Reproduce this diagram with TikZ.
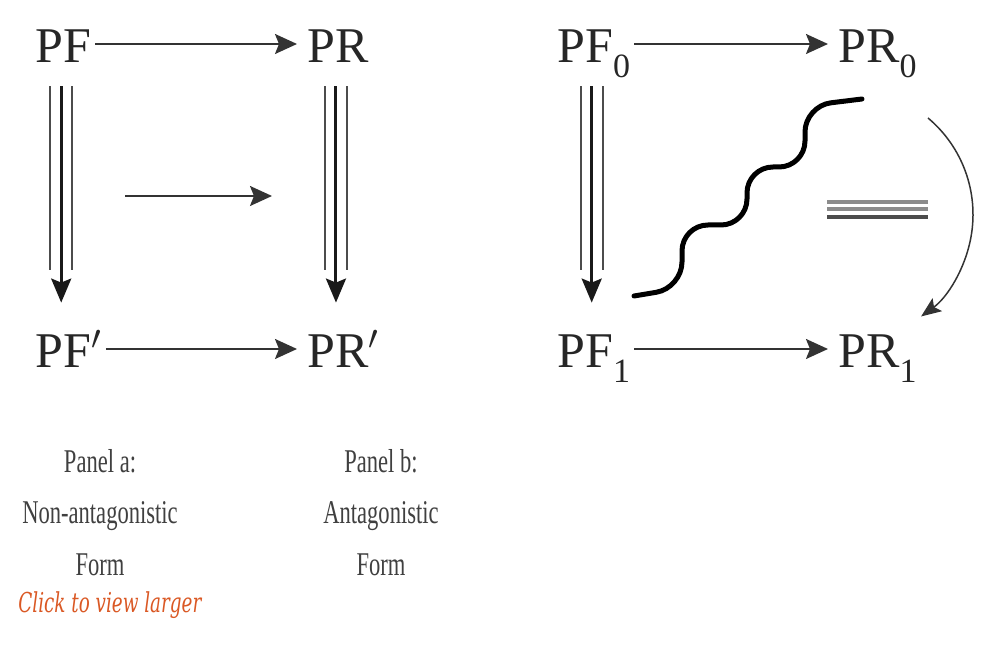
\documentclass[tikz,border=0pt]{standalone}
\usepackage{fontspec}
\setmainfont{Liberation Serif}
\newfontfamily\termfont{Liberation Serif}
\newfontfamily\panelfont[FakeStretch=0.68]{Liberation Serif}
\newfontfamily\linkfont[FakeStretch=0.67]{DejaVu Serif}
\usetikzlibrary{arrows.meta}
\definecolor{linkorange}{RGB}{218,88,36}
\newcommand\lowidx[1]{\raisebox{-7.5pt}{\fontsize{17}{17}\selectfont #1}}

\begin{document}
\begin{tikzpicture}[x=0.5pt, y=0.5pt,
  term/.style={inner sep=0pt, anchor=base west, text height=19pt, text depth=0pt,
    font=\termfont\fontsize{25}{30}\selectfont, text=black!85},
  maps/.style={-{Stealth[length=11pt,width=10pt,inset=2pt]}, line width=1pt, draw=black!80},
  horiz/.style={maps, shorten <=2pt, shorten >=5pt},
  rails/.style={draw=black!70, line width=0.9pt, double=white, double distance=10.1pt,
    shorten <=11.5pt, shorten >=30pt},
  core/.style={-{Stealth[length=12pt,width=10pt,inset=2pt]}, line width=1.5pt,
    draw=black!90, shorten <=11.5pt, shorten >=13.5pt},
  panel/.style={inner sep=0pt, anchor=north, align=center, text=black!75,
    font=\panelfont\fontsize{16.6}{25.75}\selectfont}]
\useasboundingbox (0,0) rectangle (993,648);

% panel a
\node[term] (PF)  at (35,585)  {PF};
\node[term] (PR)  at (307,585) {PR};
\node[term] (PFp) at (35,280)  {PF$'$};
\node[term] (PRp) at (307,280) {PR$'$};
\coordinate (driftA) at (125,452);
\coordinate (driftB) at (272,452);

% panel b
\node[term] (PFz) at (557,585) {PF\lowidx{0}};
\node[term] (PRz) at (838,585) {PR\lowidx{0}};
\node[term] (PFo) at (557,280) {PF\lowidx{1}};
\node[term] (PRo) at (838,280) {PR\lowidx{1}};
\coordinate (turnA) at (928,530);

\draw[horiz] (PF) -- (PR);
\draw[horiz] (PFp) -- (PRp);
\draw[horiz] (PFz) -- (PRz);
\draw[horiz] (PFo) -- (PRo);
\draw[maps] (driftA) -- (driftB);

\foreach \a/\b in {PF/PFp, PR/PRp, PFz/PFo} {
  \draw[rails] ([xshift=-1pt]\a.south) -- ([xshift=-1pt]\a.south |- \b.north);
  \draw[core] ([xshift=-1pt]\a.south) -- ([xshift=-1pt]\a.south |- \b.north);
}

% the wave
\draw[line width=2.5pt, line cap=round, rounded corners=13pt]
  (634,352) -- (682,360) -- (682,423) -- (747,423) -- (747,481)
  -- (805,481) -- (805,542) -- (862,549);

\foreach \y/\c in {446/45, 439/45, 431/70}
  \draw[black!\c, line width=1.6pt] (827,\y) -- (928,\y);

\draw[-{Stealth[length=10pt,width=8pt,inset=2pt]}, line width=0.75pt, draw=black!80]
  (turnA) arc[start angle=50, end angle=-54, radius=126];

\node[panel] (capA) at (100,199) {Panel a:\\Non-antagonistic\\Form};
\node[panel] (capB) at (381,199) {Panel b:\\Antagonistic\\Form};
\node[inner sep=0pt, anchor=base west, text=linkorange,
  font=\linkfont\itshape\fontsize{13.7}{16}\selectfont] (more) at (18,35) {Click to view larger};
\end{tikzpicture}
\end{document}
